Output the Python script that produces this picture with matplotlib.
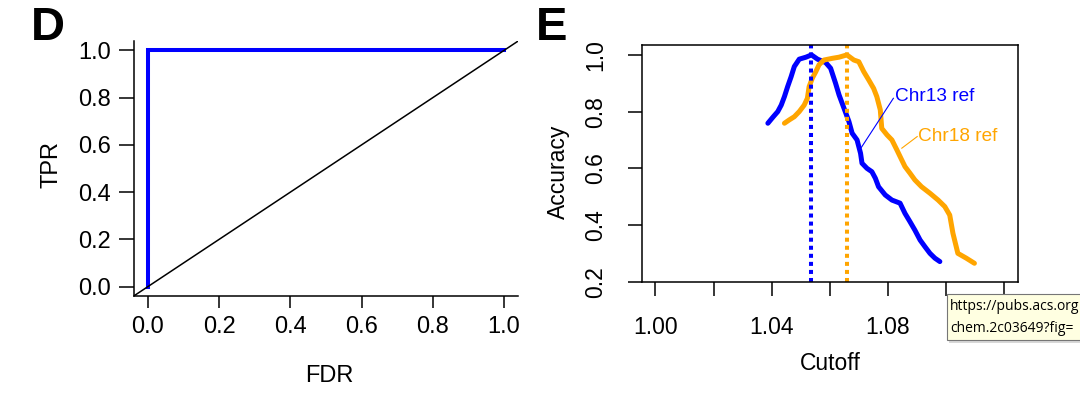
import matplotlib
matplotlib.use("Agg")
import matplotlib.pyplot as plt
from matplotlib.patches import Rectangle
import numpy as np

plt.rcParams['font.family'] = ['Liberation Sans', 'DejaVu Sans']

# Panel D: ROC-style curve
fdr = [0.0, 0.0, 1.0]
tpr = [0.0, 1.0, 1.0]

# Panel E: accuracy vs cutoff
cut13 = [1.0387, 1.0404, 1.0421, 1.0433, 1.0444, 1.0455, 1.0467, 1.0478, 1.0495,
         1.0518, 1.0537, 1.0558, 1.0586, 1.0603, 1.0620, 1.0632, 1.0649, 1.0666,
         1.0677, 1.0694, 1.0706, 1.0711, 1.0728, 1.0745, 1.0757, 1.0768, 1.0791,
         1.0814, 1.0842, 1.0859, 1.0876, 1.0893, 1.0911, 1.0928, 1.0945, 1.0962,
         1.0979]
acc13 = [0.759, 0.780, 0.800, 0.823, 0.853, 0.888, 0.923, 0.959, 0.985,
         0.992, 1.000, 0.985, 0.973, 0.953, 0.900, 0.859, 0.812, 0.765,
         0.724, 0.700, 0.653, 0.618, 0.600, 0.588, 0.565, 0.535, 0.506,
         0.488, 0.477, 0.441, 0.412, 0.382, 0.347, 0.323, 0.300, 0.283,
         0.271]

cut18 = [1.0444, 1.0461, 1.0478, 1.0495, 1.0512, 1.0523, 1.0529, 1.0540, 1.0552,
         1.0563, 1.0580, 1.0609, 1.0632, 1.0659, 1.0683, 1.0700, 1.0717, 1.0734,
         1.0751, 1.0762, 1.0774, 1.0779, 1.0797, 1.0814, 1.0831, 1.0848, 1.0859,
         1.0876, 1.0893, 1.0916, 1.0945, 1.0973, 1.0996, 1.1013, 1.1024, 1.1041,
         1.1070, 1.1098]
acc18 = [0.759, 0.771, 0.782, 0.800, 0.823, 0.847, 0.888, 0.918, 0.941,
         0.965, 0.982, 0.988, 0.992, 1.000, 0.982, 0.976, 0.941, 0.912,
         0.882, 0.853, 0.806, 0.741, 0.718, 0.700, 0.665, 0.629, 0.606,
         0.583, 0.559, 0.535, 0.512, 0.488, 0.465, 0.435, 0.371, 0.300,
         0.283, 0.265]

best13 = 1.0537
best18 = 1.0659

# x tick labels actually visible (1.12 is hidden under the tooltip)
e_xlabels = ['1.00', '', '1.04', '', '1.08', '', '']

BLUE = '#0000FF'
ORANGE = '#FFA500'

W, H = 1080, 395
fig = plt.figure(figsize=(W / 100, H / 100), dpi=100)


def px_box(l, t, r, b):
    return [l / W, 1 - b / H, (r - l) / W, (b - t) / H]


# ---------- D ----------
axD = fig.add_axes(px_box(133.6, 41, 518.2, 296.1))
axD.plot(fdr, tpr, color=BLUE, lw=2.9, solid_joinstyle='miter')
axD.axline((0, 0), (1, 1), color='black', lw=1.1)
axD.set_xlim(-0.04, 1.04)
axD.set_ylim(-0.04, 1.04)
axD.set_xticks(np.arange(0, 1.01, 0.2))
axD.set_yticks(np.arange(0, 1.01, 0.2))
axD.set_xticklabels([f"{v:.1f}" for v in np.arange(0, 1.01, 0.2)])
axD.set_yticklabels([f"{v:.1f}" for v in np.arange(0, 1.01, 0.2)])
for s in ['top', 'right']:
    axD.spines[s].set_visible(False)
for s in ['left', 'bottom']:
    axD.spines[s].set_linewidth(1.1)
axD.tick_params(axis='y', length=10.5, width=1.1, pad=6, labelsize=17)
axD.tick_params(axis='x', length=8.5, width=1.1, pad=5.5, labelsize=17)
fig.text(51.7 / W, 1 - 165 / H, 'TPR', rotation=90, ha='center', va='center', fontsize=17)
fig.text(329 / W, 1 - 376 / H, 'FDR', ha='center', va='center', fontsize=17)
fig.text(31 / W, 1 - 27.5 / H, 'D', ha='left', va='center', fontsize=34, fontweight='bold')

# ---------- E ----------
axE = fig.add_axes(px_box(641.5, 45, 1018, 281.7))
axE.plot(cut13, acc13, color=BLUE, lw=3.6, solid_joinstyle='round', solid_capstyle='round')
axE.plot(cut18, acc18, color=ORANGE, lw=3.6, solid_joinstyle='round', solid_capstyle='round')
axE.axvline(best13, color=BLUE, lw=2.9, linestyle=(0, (1, 1)))
axE.axvline(best18, color=ORANGE, lw=2.9, linestyle=(0, (1, 1)))
axE.set_xlim(0.9952, 1.1248)
axE.set_ylim(0.2, 1.035)
xt = np.arange(1.0, 1.121, 0.02)
axE.set_xticks(xt)
axE.set_xticklabels(e_xlabels)
yt = np.arange(0.2, 1.01, 0.2)
axE.set_yticks(yt)
axE.set_yticklabels([f"{v:.1f}" for v in yt], rotation=90, va='center')
for s in axE.spines.values():
    s.set_linewidth(1.1)
axE.tick_params(axis='x', length=10, width=1.1, pad=15, labelsize=16.5)
axE.tick_params(axis='y', length=10, width=1.1, pad=15, labelsize=16.5)

# curve labels
axE.plot([1.0819, 1.0709], [0.847, 0.674], color=BLUE, lw=0.8)
axE.plot([1.0901, 1.0848], [0.712, 0.671], color=ORANGE, lw=0.8)
axE.text(1.0825, 0.853, 'Chr13 ref', color=BLUE, fontsize=13.7, ha='left', va='center')
axE.text(1.0905, 0.712, 'Chr18 ref', color=ORANGE, fontsize=13.7, ha='left', va='center')

fig.text(558 / W, 1 - 172 / H, 'Accuracy', rotation=90, ha='center', va='center', fontsize=16.5)
fig.text(830 / W, 1 - 364 / H, 'Cutoff', ha='center', va='center', fontsize=16.5)
fig.text(536 / W, 1 - 27.5 / H, 'E', ha='left', va='center', fontsize=34, fontweight='bold')

# browser tooltip overlay seen in the source image
tip_l, tip_t, tip_b = 947, 294, 340
fig.patches.append(Rectangle((tip_l / W + 2 / W, 1 - (tip_b + 3) / H), (W - tip_l) / W, (tip_b - tip_t) / H,
                             transform=fig.transFigure, facecolor='#d8d8d8', edgecolor='none', zorder=9))
fig.patches.append(Rectangle((tip_l / W, 1 - tip_b / H), (W - tip_l) / W + 0.01, (tip_b - tip_t) / H,
                             transform=fig.transFigure, facecolor='#FFFFE1', edgecolor='#767676',
                             lw=0.8, zorder=10))
fig.text(950 / W, 1 - 307 / H, 'https://pubs.acs.org', fontsize=10, family='Open Sans',
         ha='left', va='center', zorder=11)
fig.text(950 / W, 1 - 328 / H, 'chem.2c03649?fig=', fontsize=10, family='Open Sans',
         ha='left', va='center', zorder=11)

fig.savefig('out.png', dpi=100)
